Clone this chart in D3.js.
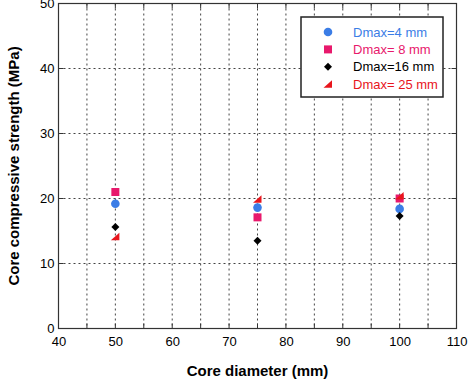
<!DOCTYPE html>
<html><head><meta charset="utf-8">
<script src="https://cdn.jsdelivr.net/npm/d3@7"></script>
<style>body{margin:0;background:#fff}svg{display:block;font-family:"Liberation Sans",Arial,sans-serif}</style>
</head><body><svg id="c" width="474" height="384"></svg>
<script>
const diameters = [50, 75, 100];
const seriesNames = ["Dmax=4 mm", "Dmax= 8 mm", "Dmax=16 mm", "Dmax= 25 mm"];
const dmax4 = [19.2, 18.6, 18.4];
const dmax8 = [21.0, 17.1, 20.0];
const dmax16 = [15.6, 13.5, 17.3];
const dmax25 = [14.1, 19.9, 20.4];
const xTicks = [40, 50, 60, 70, 80, 90, 100, 110];
const yTicks = [0, 10, 20, 30, 40, 50];

const colors = ["#3b7de6", "#e8196c", "#000000", "#e8151c"];
const shapes = ["circle", "square", "diamond", "triangle"];
const values = [dmax4, dmax8, dmax16, dmax25];

const svg = d3.select("#c");
const L = 58.5, R = 456.5, T = 3.5, B = 328.5;
const x = d3.scaleLinear().domain([40, 110]).range([L, R]);
const y = d3.scaleLinear().domain([0, 50]).range([B, T]);

// grid
const gridX = d3.range(45, 110, 5);
svg.append("g").selectAll("line").data(gridX).join("line")
  .attr("x1", d => x(d)).attr("x2", d => x(d)).attr("y1", T).attr("y2", B)
  .attr("stroke", "#444").attr("stroke-width", 1).attr("stroke-dasharray", "2,3");
svg.append("g").selectAll("line").data([10, 20, 30, 40]).join("line")
  .attr("y1", d => y(d)).attr("y2", d => y(d)).attr("x1", L).attr("x2", R)
  .attr("stroke", "#444").attr("stroke-width", 1).attr("stroke-dasharray", "2,3");

// axes
const xAxis = d3.axisBottom(x).tickValues(xTicks).tickSize(0).tickPadding(8);
const gx = svg.append("g").attr("transform", `translate(0,${B})`).call(xAxis);
gx.select(".domain").remove();
gx.selectAll("text").attr("font-size", 13).attr("fill", "#000").attr("font-family", "Liberation Sans, Arial, sans-serif");
const yAxis = d3.axisLeft(y).tickValues(yTicks).tickSize(0).tickPadding(4);
const gy = svg.append("g").attr("transform", `translate(${L},0)`).call(yAxis);
gy.select(".domain").remove();
gy.selectAll("text").attr("font-size", 13).attr("fill", "#000").attr("font-family", "Liberation Sans, Arial, sans-serif");

// inner ticks on all sides
const tk = 5;
svg.append("g").selectAll("line").data(gridX).join("line")
  .attr("x1", d => x(d)).attr("x2", d => x(d)).attr("y1", B).attr("y2", B - tk).attr("stroke", "#333");
svg.append("g").selectAll("line").data(gridX).join("line")
  .attr("x1", d => x(d)).attr("x2", d => x(d)).attr("y1", T).attr("y2", T + tk).attr("stroke", "#333");
svg.append("g").selectAll("line").data([10, 20, 30, 40]).join("line")
  .attr("y1", d => y(d)).attr("y2", d => y(d)).attr("x1", L).attr("x2", L + tk).attr("stroke", "#333");
svg.append("g").selectAll("line").data([10, 20, 30, 40]).join("line")
  .attr("y1", d => y(d)).attr("y2", d => y(d)).attr("x1", R).attr("x2", R - tk).attr("stroke", "#333");

svg.append("rect").attr("x", L).attr("y", T).attr("width", R - L).attr("height", B - T)
  .attr("fill", "none").attr("stroke", "#333").attr("stroke-width", 1.2);

// markers
function marker(sel, shape, color, cx, cy) {
  if (shape === "circle") sel.append("circle").attr("cx", cx).attr("cy", cy).attr("r", 4.3).attr("fill", color);
  else if (shape === "square") sel.append("rect").attr("x", cx - 4).attr("y", cy - 4).attr("width", 8).attr("height", 8).attr("fill", color);
  else if (shape === "diamond") sel.append("path").attr("d", `M${cx},${cy-4}L${cx+4},${cy}L${cx},${cy+4}L${cx-4},${cy}Z`).attr("fill", color);
  else sel.append("path").attr("d", `M${cx+4},${cy-4}L${cx+4},${cy+3.5}L${cx-4.5},${cy+3.5}Z`).attr("fill", color);
}
const pts = svg.append("g");
values.forEach((vals, i) => {
  vals.forEach((v, j) => marker(pts, shapes[i], colors[i], x(diameters[j]), y(v)));
});

// legend
const lg = svg.append("g");
lg.append("rect").attr("x", 301).attr("y", 17).attr("width", 142).attr("height", 80)
  .attr("fill", "#fff").attr("stroke", "#222").attr("stroke-width", 1.5);
seriesNames.forEach((n, i) => {
  const yy = 32 + i * 17.4;
  marker(lg, shapes[i], colors[i], 328, yy);
  lg.append("text").attr("x", 353).attr("y", yy + 4.5).attr("font-size", 13)
    .attr("fill", colors[i]).text(n);
});

// titles
svg.append("text").attr("x", (L + R) / 2).attr("y", 376).attr("text-anchor", "middle")
  .attr("font-size", 15).attr("font-weight", "bold").text("Core diameter (mm)");
svg.append("text").attr("transform", `translate(19,${(T + B) / 2}) rotate(-90)`).attr("text-anchor", "middle")
  .attr("font-size", 15).attr("font-weight", "bold").text("Core compressive strength (MPa)");
</script></body></html>
